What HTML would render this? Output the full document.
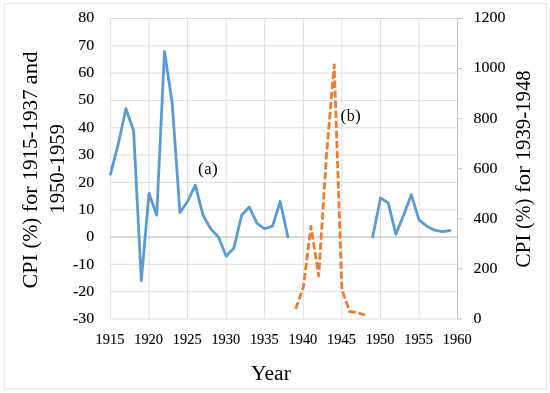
<!DOCTYPE html>
<html><head><meta charset="utf-8"><title>CPI chart</title>
<style>html,body{margin:0;padding:0;background:#fff}svg{display:block}text{font-family:"Liberation Serif","DejaVu Serif",serif;fill:#000}.h text{stroke:#000;stroke-width:0.12px}</style></head><body>
<svg width="550" height="393" viewBox="0 0 550 393">
<rect x="0" y="0" width="550" height="393" fill="#fff"/>
<rect x="4.2" y="3.8" width="542.4" height="385.3" fill="#fff" stroke="#e4e4e4" stroke-width="1.1"/>
<line x1="110.45" x2="457.6" y1="18.50" y2="18.50" stroke="#d6d6d6" stroke-width="0.8"/>
<line x1="110.45" x2="457.6" y1="45.82" y2="45.82" stroke="#d6d6d6" stroke-width="0.8"/>
<line x1="110.45" x2="457.6" y1="73.14" y2="73.14" stroke="#d6d6d6" stroke-width="0.8"/>
<line x1="110.45" x2="457.6" y1="100.45" y2="100.45" stroke="#d6d6d6" stroke-width="0.8"/>
<line x1="110.45" x2="457.6" y1="127.77" y2="127.77" stroke="#d6d6d6" stroke-width="0.8"/>
<line x1="110.45" x2="457.6" y1="155.09" y2="155.09" stroke="#d6d6d6" stroke-width="0.8"/>
<line x1="110.45" x2="457.6" y1="182.41" y2="182.41" stroke="#d6d6d6" stroke-width="0.8"/>
<line x1="110.45" x2="457.6" y1="209.73" y2="209.73" stroke="#d6d6d6" stroke-width="0.8"/>
<line x1="110.45" x2="457.6" y1="237.05" y2="237.05" stroke="#d6d6d6" stroke-width="0.8"/>
<line x1="110.45" x2="457.6" y1="264.36" y2="264.36" stroke="#d6d6d6" stroke-width="0.8"/>
<line x1="110.45" x2="457.6" y1="291.68" y2="291.68" stroke="#d6d6d6" stroke-width="0.8"/>
<line x1="110.45" x2="457.6" y1="319.00" y2="319.00" stroke="#d6d6d6" stroke-width="0.8"/>
<line y1="18.5" y2="319.0" x1="110.45" x2="110.45" stroke="#d6d6d6" stroke-width="0.8"/>
<line y1="18.5" y2="319.0" x1="149.02" x2="149.02" stroke="#d6d6d6" stroke-width="0.8"/>
<line y1="18.5" y2="319.0" x1="187.59" x2="187.59" stroke="#d6d6d6" stroke-width="0.8"/>
<line y1="18.5" y2="319.0" x1="226.17" x2="226.17" stroke="#d6d6d6" stroke-width="0.8"/>
<line y1="18.5" y2="319.0" x1="264.74" x2="264.74" stroke="#d6d6d6" stroke-width="0.8"/>
<line y1="18.5" y2="319.0" x1="303.31" x2="303.31" stroke="#d6d6d6" stroke-width="0.8"/>
<line y1="18.5" y2="319.0" x1="341.88" x2="341.88" stroke="#d6d6d6" stroke-width="0.8"/>
<line y1="18.5" y2="319.0" x1="380.46" x2="380.46" stroke="#d6d6d6" stroke-width="0.8"/>
<line y1="18.5" y2="319.0" x1="419.03" x2="419.03" stroke="#d6d6d6" stroke-width="0.8"/>
<line y1="18.5" y2="319.0" x1="457.60" x2="457.60" stroke="#d6d6d6" stroke-width="0.8"/>
<line x1="110.45" x2="457.6" y1="237.05" y2="237.05" stroke="#c4c4c4" stroke-width="1"/>
<line y1="18.5" y2="319.0" x1="457.6" x2="457.6" stroke="#c4c4c4" stroke-width="1"/>
<line x1="457.6" x2="462.40000000000003" y1="319.00" y2="319.00" stroke="#c4c4c4" stroke-width="1"/>
<line x1="457.6" x2="462.40000000000003" y1="268.92" y2="268.92" stroke="#c4c4c4" stroke-width="1"/>
<line x1="457.6" x2="462.40000000000003" y1="218.83" y2="218.83" stroke="#c4c4c4" stroke-width="1"/>
<line x1="457.6" x2="462.40000000000003" y1="168.75" y2="168.75" stroke="#c4c4c4" stroke-width="1"/>
<line x1="457.6" x2="462.40000000000003" y1="118.67" y2="118.67" stroke="#c4c4c4" stroke-width="1"/>
<line x1="457.6" x2="462.40000000000003" y1="68.58" y2="68.58" stroke="#c4c4c4" stroke-width="1"/>
<line x1="457.6" x2="462.40000000000003" y1="18.50" y2="18.50" stroke="#c4c4c4" stroke-width="1"/>
<g class="h">
<text transform="translate(94.2,22.2) scale(1.03,1)" font-size="15.5" text-anchor="end">80</text>
<text transform="translate(94.2,49.6) scale(1.03,1)" font-size="15.5" text-anchor="end">70</text>
<text transform="translate(94.2,77.0) scale(1.03,1)" font-size="15.5" text-anchor="end">60</text>
<text transform="translate(94.2,104.3) scale(1.03,1)" font-size="15.5" text-anchor="end">50</text>
<text transform="translate(94.2,131.7) scale(1.03,1)" font-size="15.5" text-anchor="end">40</text>
<text transform="translate(94.2,159.1) scale(1.03,1)" font-size="15.5" text-anchor="end">30</text>
<text transform="translate(94.2,186.5) scale(1.03,1)" font-size="15.5" text-anchor="end">20</text>
<text transform="translate(94.2,213.9) scale(1.03,1)" font-size="15.5" text-anchor="end">10</text>
<text transform="translate(94.2,241.2) scale(1.03,1)" font-size="15.5" text-anchor="end">0</text>
<text transform="translate(94.2,268.6) scale(1.03,1)" font-size="15.5" text-anchor="end">-10</text>
<text transform="translate(94.2,296.0) scale(1.03,1)" font-size="15.5" text-anchor="end">-20</text>
<text transform="translate(94.2,323.4) scale(1.03,1)" font-size="15.5" text-anchor="end">-30</text>
<text transform="translate(473.6,323.4) scale(1.03,1)" font-size="15.5">0</text>
<text transform="translate(473.6,273.2) scale(1.03,1)" font-size="15.5">200</text>
<text transform="translate(473.6,223.0) scale(1.03,1)" font-size="15.5">400</text>
<text transform="translate(473.6,172.8) scale(1.03,1)" font-size="15.5">600</text>
<text transform="translate(473.6,122.6) scale(1.03,1)" font-size="15.5">800</text>
<text transform="translate(473.6,72.4) scale(1.03,1)" font-size="15.5">1000</text>
<text transform="translate(473.6,22.2) scale(1.03,1)" font-size="15.5">1200</text>
<text x="110.0" y="344.2" font-size="14.4" text-anchor="middle">1915</text>
<text x="148.6" y="344.2" font-size="14.4" text-anchor="middle">1920</text>
<text x="187.2" y="344.2" font-size="14.4" text-anchor="middle">1925</text>
<text x="225.8" y="344.2" font-size="14.4" text-anchor="middle">1930</text>
<text x="264.3" y="344.2" font-size="14.4" text-anchor="middle">1935</text>
<text x="302.9" y="344.2" font-size="14.4" text-anchor="middle">1940</text>
<text x="341.5" y="344.2" font-size="14.4" text-anchor="middle">1945</text>
<text x="380.1" y="344.2" font-size="14.4" text-anchor="middle">1950</text>
<text x="418.6" y="344.2" font-size="14.4" text-anchor="middle">1955</text>
<text x="457.2" y="344.2" font-size="14.4" text-anchor="middle">1960</text>
</g>
<text x="271" y="380" font-size="21.6" text-anchor="middle">Year</text>
<text transform="translate(36.8,288.4) rotate(-90) scale(1.015,1)" font-size="21.6">CPI</text>
<text transform="translate(36.8,248.6) rotate(-90) scale(0.95,1)" font-size="21.6">(%)</text>
<text transform="translate(36.8,212.2) rotate(-90) scale(1.03,1)" font-size="21.6">for</text>
<text transform="translate(36.8,180.6) rotate(-90) scale(0.973,1)" font-size="21.6">1915-1937</text>
<text transform="translate(36.8,84.4) rotate(-90) scale(1.06,1)" font-size="21.6">and</text>
<text transform="translate(63.9,213.7) rotate(-90) scale(0.958,1)" font-size="21.6">1950-1959</text>
<text transform="translate(530.2,267.8) rotate(-90) scale(0.995,1)" font-size="21.6">CPI</text>
<text transform="translate(530.2,228.9) rotate(-90) scale(0.935,1)" font-size="21.6">(%)</text>
<text transform="translate(530.2,192.9) rotate(-90) scale(1.06,1)" font-size="21.6">for</text>
<text transform="translate(530.2,160.3) rotate(-90) scale(0.962,1)" font-size="21.6">1939-1948</text>
<polyline points="110.5,174.2 118.2,144.2 125.9,108.7 133.6,130.5 141.3,280.8 149.0,193.3 156.7,215.2 164.5,51.3 172.2,103.2 179.9,212.5 187.6,201.5 195.3,185.1 203.0,215.2 210.7,228.8 218.5,237.0 226.2,256.2 233.9,248.0 241.6,215.2 249.3,207.0 257.0,223.4 264.7,228.8 272.5,226.1 280.2,201.5 287.9,237.0" fill="none" stroke="#5b9bd5" stroke-width="2.8" stroke-linejoin="round" stroke-linecap="round"/>
<polyline points="372.7,237.0 380.5,198.0 388.2,202.9 395.9,234.3 403.6,215.2 411.3,194.7 419.0,219.8 426.7,226.1 434.5,230.2 442.2,231.6 449.9,230.5" fill="none" stroke="#5b9bd5" stroke-width="2.8" stroke-linejoin="round" stroke-linecap="round"/>
<polyline points="295.6,309.0 303.3,287.7 311.0,226.3 318.7,275.9 326.5,155.0 334.2,64.8 341.9,289.5 349.6,311.5 357.3,312.7 365.0,315.0" fill="none" stroke="#ed7d31" stroke-width="2.8" stroke-linejoin="round" stroke-dasharray="7.3 2.76"/>
<text x="207.9" y="174.3" font-size="15.7" text-anchor="middle"><tspan font-size="17.2" dy="-0.2">(</tspan><tspan dy="0.2" font-size="16.6" dx="0.4">a</tspan><tspan font-size="17.2" dy="-0.2" dx="0.4">)</tspan></text>
<text x="350.7" y="121.4" font-size="15.7" text-anchor="middle"><tspan font-size="17.2" dy="-0.2">(</tspan><tspan dy="0.2" font-size="16" dx="0.4">b</tspan><tspan font-size="17.2" dy="-0.2" dx="0.4">)</tspan></text>
</svg></body></html>
